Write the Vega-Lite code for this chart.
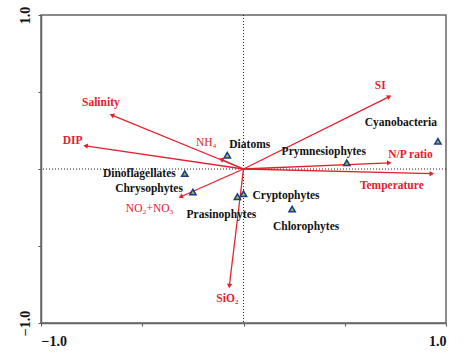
{
  "$schema": "https://vega.github.io/schema/vega-lite/v6.json",
  "width": 405,
  "height": 308,
  "autosize": "none",
  "padding": {"left": 41, "top": 15, "right": 28, "bottom": 34},
  "config": {
    "view": {"stroke": "#666", "strokeWidth": 1.5},
    "axis": {
      "grid": false, "title": null, "domainColor": "#666", "domainWidth": 1.5,
      "tickColor": "#555", "tickSize": 3, "labelFont": "Liberation Serif",
      "labelFontWeight": "bold", "labelFontSize": 14, "labelColor": "#111",
      "labelFlush": true
    },
    "text": {"font": "Liberation Serif", "fontSize": 11.5, "fontWeight": "bold", "baseline": "middle"}
  },
  "datasets": {
    "env": [
      {"name": "SI", "x": 0.72, "y": 0.47},
      {"name": "N/P  ratio", "x": 0.72, "y": 0.04},
      {"name": "Temperature", "x": 0.93, "y": -0.03},
      {"name": "Salinity", "x": -0.65, "y": 0.35},
      {"name": "DIP", "x": -0.78, "y": 0.15},
      {"name": "NH₄", "x": -0.11, "y": 0.063},
      {"name": "NO₂+NO₃", "x": -0.31, "y": -0.18},
      {"name": "SiO₂", "x": -0.07, "y": -0.76}
    ],
    "species": [
      {"name": "Diatoms", "x": -0.08, "y": 0.09},
      {"name": "Dinoflagellates", "x": -0.29, "y": -0.03},
      {"name": "Chrysophytes", "x": -0.25, "y": -0.15},
      {"name": "Prasinophytes", "x": -0.03, "y": -0.18},
      {"name": "Cryptophytes", "x": 0.0, "y": -0.16},
      {"name": "Chlorophytes", "x": 0.24, "y": -0.26},
      {"name": "Prymnesiophytes", "x": 0.51, "y": 0.04},
      {"name": "Cyanobacteria", "x": 0.96, "y": 0.18}
    ]
  },
  "encoding": {
    "x": {"field": "x", "type": "quantitative", "scale": {"domain": [-1, 1], "nice": false, "zero": false},
      "axis": {"values": [-1, -0.5, 0, 0.5, 1], "labelPadding": 8,
        "labelExpr": "datum.value == 1 || datum.value == -1 ? format(datum.value, '.1f') : ''"}},
    "y": {"field": "y", "type": "quantitative", "scale": {"domain": [-1, 1], "nice": false, "zero": false},
      "axis": {"values": [-1, -0.5, 0, 0.5, 1], "labelAngle": -90, "labelPadding": 6,
        "labelExpr": "datum.value == 1 || datum.value == -1 ? format(datum.value, '.1f') : ''"}}
  },
  "layer": [
    {"data": {"values": [{"v": 0}]}, "mark": {"type": "rule", "color": "#222", "strokeDash": [1, 2], "strokeWidth": 1},
      "encoding": {"x": {"field": "v", "type": "quantitative"}, "y": null}},
    {"data": {"values": [{"v": 0}]}, "mark": {"type": "rule", "color": "#222", "strokeDash": [1, 2], "strokeWidth": 1},
      "encoding": {"y": {"field": "v", "type": "quantitative"}, "x": null}},
    {"data": {"name": "env"}, "mark": {"type": "rule", "color": "#e5202e", "strokeWidth": 1.3},
      "encoding": {"x2": {"datum": 0}, "y2": {"datum": 0}}},
    {"data": {"name": "env"},
      "transform": [{"calculate": "atan2(-datum.y * 154, datum.x * 202.5) * 180 / PI", "as": "ang"}],
      "mark": {"type": "point", "shape": "triangle-right", "filled": true, "color": "#e5202e", "size": 28, "opacity": 1},
      "encoding": {"angle": {"field": "ang", "type": "quantitative", "scale": null}}},
    {"data": {"name": "species"}, "mark": {"type": "point", "shape": "triangle-up", "filled": true, "fill": "#8cc63f", "stroke": "#1b3a8c", "strokeWidth": 1.5, "size": 40, "opacity": 1}},

    {"data": {"name": "env"}, "transform": [{"filter": "datum.name == 'SI'"}], "mark": {"type": "text", "color": "#e5202e", "align": "center", "dx": -9, "dy": -11}, "encoding": {"text": {"field": "name"}}},
    {"data": {"name": "env"}, "transform": [{"filter": "datum.name == 'N/P  ratio'"}], "mark": {"type": "text", "color": "#e5202e", "align": "left", "dx": -1, "dy": -8}, "encoding": {"text": {"field": "name"}}},
    {"data": {"name": "env"}, "transform": [{"filter": "datum.name == 'Temperature'"}], "mark": {"type": "text", "color": "#e5202e", "align": "center", "dx": -40, "dy": 12}, "encoding": {"text": {"field": "name"}}},
    {"data": {"name": "env"}, "transform": [{"filter": "datum.name == 'Salinity'"}], "mark": {"type": "text", "color": "#e5202e", "align": "center", "dx": -11, "dy": -12}, "encoding": {"text": {"field": "name"}}},
    {"data": {"name": "env"}, "transform": [{"filter": "datum.name == 'DIP'"}], "mark": {"type": "text", "color": "#e5202e", "align": "center", "dx": -13, "dy": -5}, "encoding": {"text": {"field": "name"}}},
    {"data": {"name": "env"}, "transform": [{"filter": "datum.name == 'NH₄'"}], "mark": {"type": "text", "color": "#e5202e", "fontWeight": "normal", "align": "center", "dx": -15, "dy": -16}, "encoding": {"text": {"field": "name"}}},
    {"data": {"name": "env"}, "transform": [{"filter": "datum.name == 'NO₂+NO₃'"}], "mark": {"type": "text", "color": "#e5202e", "fontWeight": "normal", "align": "center", "dx": -31, "dy": 12}, "encoding": {"text": {"field": "name"}}},
    {"data": {"name": "env"}, "transform": [{"filter": "datum.name == 'SiO₂'"}], "mark": {"type": "text", "color": "#e5202e", "align": "center", "dx": -2, "dy": 13}, "encoding": {"text": {"field": "name"}}},

    {"data": {"name": "species"}, "transform": [{"filter": "datum.name == 'Diatoms'"}], "mark": {"type": "text", "color": "#111", "align": "left", "dx": 2, "dy": -10}, "encoding": {"text": {"field": "name"}}},
    {"data": {"name": "species"}, "transform": [{"filter": "datum.name == 'Dinoflagellates'"}], "mark": {"type": "text", "color": "#111", "align": "right", "dx": -9, "dy": 0}, "encoding": {"text": {"field": "name"}}},
    {"data": {"name": "species"}, "transform": [{"filter": "datum.name == 'Chrysophytes'"}], "mark": {"type": "text", "color": "#111", "align": "right", "dx": -10, "dy": -3}, "encoding": {"text": {"field": "name"}}},
    {"data": {"name": "species"}, "transform": [{"filter": "datum.name == 'Prasinophytes'"}], "mark": {"type": "text", "color": "#111", "align": "center", "dx": -16, "dy": 18}, "encoding": {"text": {"field": "name"}}},
    {"data": {"name": "species"}, "transform": [{"filter": "datum.name == 'Cryptophytes'"}], "mark": {"type": "text", "color": "#111", "align": "left", "dx": 9, "dy": 2}, "encoding": {"text": {"field": "name"}}},
    {"data": {"name": "species"}, "transform": [{"filter": "datum.name == 'Chlorophytes'"}], "mark": {"type": "text", "color": "#111", "align": "center", "dx": 14, "dy": 18}, "encoding": {"text": {"field": "name"}}},
    {"data": {"name": "species"}, "transform": [{"filter": "datum.name == 'Prymnesiophytes'"}], "mark": {"type": "text", "color": "#111", "align": "center", "dx": -23, "dy": -11}, "encoding": {"text": {"field": "name"}}},
    {"data": {"name": "species"}, "transform": [{"filter": "datum.name == 'Cyanobacteria'"}], "mark": {"type": "text", "color": "#111", "align": "right", "dx": -1, "dy": -18}, "encoding": {"text": {"field": "name"}}}
  ]
}
